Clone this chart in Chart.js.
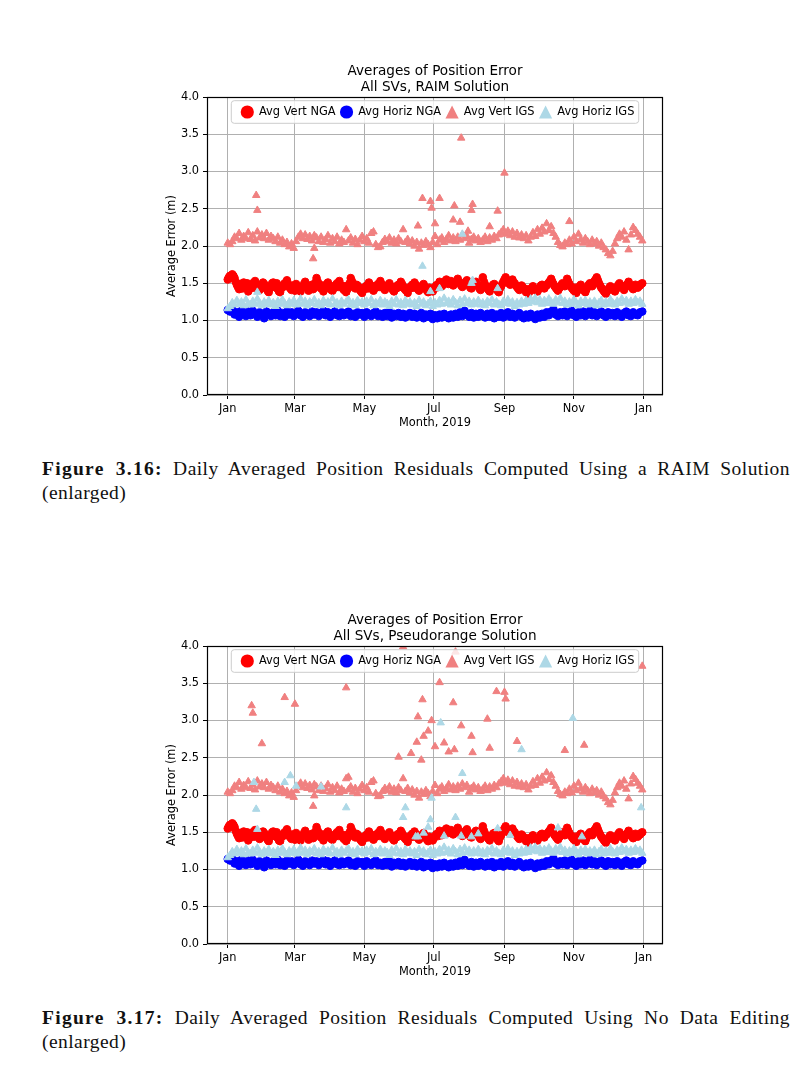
<!DOCTYPE html>
<html>
<head>
<meta charset="utf-8">
<script src="https://cdn.jsdelivr.net/npm/chart.js@4.4.0/dist/chart.umd.min.js"></script>
<style>
html,body{margin:0;padding:0;background:#fff;}
body{width:805px;height:1074px;position:relative;overflow:hidden;}
canvas{position:absolute;left:0;}
.cap{position:absolute;left:42px;width:748px;font-family:"Liberation Serif","DejaVu Serif",serif;font-size:19.5px;line-height:24px;color:#111;letter-spacing:0.45px;}
.cap .l1{text-align:justify;text-align-last:justify;}
.cap b{letter-spacing:1.3px;}
</style>
</head>
<body>
<canvas id="c1" width="805" height="400" style="top:40px"></canvas>
<div class="cap" style="top:457px">
  <div class="l1"><b>Figure 3.16:</b> Daily Averaged Position Residuals Computed Using a RAIM Solution</div>
  <div>(enlarged)</div>
</div>
<canvas id="c2" width="805" height="400" style="top:589px"></canvas>
<div class="cap" style="top:1006px">
  <div class="l1"><b>Figure 3.17:</b> Daily Averaged Position Residuals Computed Using No Data Editing</div>
  <div>(enlarged)</div>
</div>
<script>
// ---- Axis / category data ----
const monthTickDays   = [0, 59, 120, 181, 243, 304, 365];
const monthTickLabels = ['Jan', 'Mar', 'May', 'Jul', 'Sep', 'Nov', 'Jan'];
const seriesNames = ['Avg Vert NGA', 'Avg Horiz NGA', 'Avg Vert IGS', 'Avg Horiz IGS'];
const titleRaim = ['Averages of Position Error', 'All SVs, RAIM Solution'];
const titlePr   = ['Averages of Position Error', 'All SVs, Pseudorange Solution'];
const stepDays = 2; // arrays below hold every 2nd day, starting Jan 1 2019 (day 0)

// ---- Daily series (even days 0 .. 364) ----
const vertNga = [
1.55,1.60,1.62,1.57,1.48,1.42,1.46,1.51,1.44,1.39,
1.45,1.50,1.53,1.47,1.41,1.44,1.49,1.43,1.38,1.46,
1.51,1.47,1.42,1.38,1.45,1.50,1.54,1.46,1.41,1.44,
1.49,1.43,1.39,1.45,1.52,1.47,1.42,1.48,1.44,1.57,
1.49,1.43,1.39,1.46,1.51,1.45,1.40,1.44,1.50,1.53,
1.46,1.41,1.38,1.44,1.57,1.49,1.43,1.47,1.41,1.37,
1.42,1.47,1.51,1.45,1.40,1.44,1.49,1.53,1.46,1.41,
1.45,1.50,1.44,1.39,1.43,1.48,1.52,1.46,1.41,1.37,
1.43,1.48,1.51,1.45,1.40,1.44,1.49,1.43,1.38,1.42,
1.39,1.44,1.48,1.52,1.46,1.51,1.55,1.49,1.53,1.47,
1.51,1.56,1.50,1.45,1.49,1.54,1.47,1.43,1.48,1.52,
1.46,1.41,1.58,1.48,1.43,1.39,1.45,1.49,1.42,1.38,
1.46,1.52,1.58,1.53,1.48,1.55,1.50,1.45,1.41,1.47,
1.43,1.38,1.36,1.41,1.46,1.42,1.39,1.44,1.48,1.43,
1.47,1.51,1.56,1.49,1.44,1.40,1.45,1.50,1.46,1.56,
1.49,1.44,1.40,1.37,1.43,1.48,1.42,1.38,1.45,1.50,
1.46,1.53,1.58,1.50,1.44,1.40,1.36,1.41,1.46,1.43,
1.39,1.45,1.50,1.46,1.41,1.47,1.52,1.46,1.42,1.48,
1.44,1.47,1.50];
// Vert NGA, odd days 1 .. 363 (the red band is read day by day)
const vertNgaOddDays = [
1.58,1.57,1.60,1.52,1.45,1.49,1.43,1.47,1.50,1.42,
1.48,1.44,1.49,1.43,1.47,1.51,1.46,1.40,1.43,1.50,
1.45,1.50,1.39,1.43,1.48,1.46,1.49,1.43,1.47,1.40,
1.46,1.41,1.44,1.49,1.46,1.40,1.45,1.42,1.51,1.52,
1.45,1.47,1.42,1.49,1.47,1.41,1.46,1.48,1.45,1.48,
1.43,1.46,1.42,1.50,1.53,1.45,1.48,1.43,1.39,1.44,
1.45,1.43,1.48,1.42,1.46,1.47,1.45,1.49,1.43,1.46,
1.48,1.46,1.41,1.44,1.47,1.45,1.49,1.43,1.40,1.44,
1.46,1.44,1.48,1.42,1.45,1.47,1.45,1.40,1.44,1.41,
1.42,1.47,1.45,1.49,1.48,1.53,1.50,1.51,1.49,1.50,
1.53,1.52,1.47,1.48,1.52,1.50,1.44,1.47,1.50,1.48,
1.43,1.47,1.52,1.45,1.41,1.43,1.48,1.45,1.40,1.43,
1.49,1.55,1.54,1.50,1.52,1.51,1.47,1.43,1.44,1.45,
1.41,1.42,1.39,1.44,1.43,1.40,1.42,1.47,1.45,1.46,
1.49,1.53,1.52,1.46,1.42,1.43,1.48,1.47,1.51,1.52,
1.46,1.42,1.44,1.40,1.46,1.44,1.40,1.42,1.48,1.47,
1.50,1.55,1.54,1.47,1.42,1.38,1.39,1.44,1.44,1.41,
1.42,1.48,1.47,1.44,1.45,1.49,1.48,1.44,1.46,1.45,
1.46,1.49];

const horizNga = [
1.14,1.12,1.15,1.08,1.11,1.05,1.13,1.09,1.06,1.12,
1.07,1.13,1.09,1.05,1.11,1.08,1.03,1.12,1.09,1.06,
1.11,1.07,1.13,1.06,1.10,1.05,1.12,1.08,1.11,1.06,
1.09,1.13,1.07,1.05,1.11,1.09,1.06,1.12,1.08,1.11,
1.06,1.10,1.13,1.07,1.11,1.05,1.09,1.12,1.07,1.06,
1.11,1.07,1.10,1.12,1.06,1.09,1.05,1.11,1.08,1.10,
1.05,1.11,1.08,1.06,1.10,1.12,1.06,1.09,1.05,1.10,
1.06,1.11,1.04,1.09,1.06,1.10,1.05,1.09,1.04,1.08,
1.10,1.05,1.09,1.04,1.08,1.10,1.03,1.08,1.05,1.09,
1.02,1.07,1.03,1.08,1.04,1.09,1.05,1.03,1.08,1.04,
1.09,1.05,1.11,1.06,1.13,1.08,1.05,1.10,1.04,1.09,
1.05,1.10,1.06,1.04,1.09,1.05,1.10,1.03,1.08,1.05,
1.10,1.04,1.09,1.11,1.05,1.09,1.04,1.08,1.10,1.05,
1.03,1.08,1.04,1.09,1.05,1.02,1.08,1.04,1.09,1.05,
1.11,1.07,1.12,1.15,1.08,1.06,1.11,1.07,1.12,1.06,
1.10,1.13,1.07,1.05,1.11,1.07,1.12,1.06,1.10,1.13,
1.07,1.11,1.06,1.10,1.12,1.07,1.05,1.11,1.07,1.10,
1.06,1.11,1.07,1.05,1.10,1.12,1.07,1.06,1.11,1.08,
1.07,1.11,1.12];

const vertIgs = [
2.04,2.02,2.06,2.12,2.10,2.17,2.08,2.13,2.10,2.18,
2.09,2.14,2.07,2.19,2.11,2.15,2.10,2.17,2.08,2.13,
2.10,2.06,2.12,2.04,2.08,2.02,2.05,1.99,2.03,1.97,
2.06,2.12,2.16,2.10,2.15,2.09,2.13,2.07,2.14,2.11,
2.06,2.12,2.05,2.09,2.14,2.04,2.10,2.06,2.12,2.03,
2.08,2.05,2.22,2.07,2.11,2.04,2.09,2.02,2.08,2.13,
2.06,2.10,2.04,2.17,2.19,2.02,1.98,1.99,2.05,2.09,
2.06,2.11,2.04,2.08,2.03,2.10,2.06,2.22,2.05,2.09,
2.03,2.07,2.00,2.05,1.96,2.04,2.01,2.06,2.02,1.98,
2.05,2.13,2.02,2.08,2.11,2.05,2.09,2.14,2.07,2.11,
2.06,2.12,2.08,2.15,2.10,2.13,2.04,2.09,2.12,2.07,
2.10,2.05,2.08,2.12,2.06,2.11,2.08,2.13,2.10,2.15,
2.18,2.22,2.16,2.20,2.14,2.19,2.12,2.17,2.11,2.15,
2.10,2.14,2.07,2.12,2.18,2.13,2.22,2.16,2.24,2.19,
2.30,2.21,2.26,2.17,2.12,2.05,2.01,1.99,2.04,2.02,
2.08,2.03,2.12,2.06,2.16,2.09,2.04,2.10,2.06,2.02,
2.08,2.03,2.06,2.00,2.04,1.98,1.95,1.90,1.87,1.93,
2.03,2.10,2.16,2.12,2.19,2.08,1.95,2.15,2.25,2.21,
2.16,2.12,2.07];

const horizIgs = [
1.16,1.19,1.24,1.21,1.27,1.22,1.25,1.20,1.28,1.23,
1.21,1.26,1.22,1.29,1.24,1.20,1.25,1.22,1.27,1.21,
1.24,1.19,1.26,1.22,1.28,1.23,1.20,1.25,1.22,1.27,
1.21,1.24,1.29,1.22,1.26,1.20,1.25,1.23,1.28,1.21,
1.24,1.20,1.27,1.23,1.25,1.21,1.29,1.22,1.24,1.20,
1.26,1.22,1.25,1.28,1.21,1.24,1.20,1.27,1.23,1.25,
1.21,1.26,1.23,1.28,1.20,1.24,1.22,1.27,1.21,1.25,
1.23,1.19,1.26,1.22,1.28,1.21,1.24,1.20,1.27,1.22,
1.25,1.21,1.24,1.19,1.27,1.22,1.25,1.20,1.23,1.26,
1.19,1.24,1.21,1.27,1.22,1.30,1.23,1.26,1.21,1.28,
1.24,1.20,1.27,1.22,1.29,1.23,1.26,1.21,1.25,1.22,
1.27,1.21,1.24,1.20,1.26,1.23,1.28,1.21,1.25,1.22,
1.20,1.26,1.23,1.28,1.22,1.25,1.19,1.24,1.21,1.26,
1.22,1.27,1.23,1.29,1.25,1.30,1.24,1.28,1.22,1.27,
1.23,1.29,1.25,1.22,1.28,1.24,1.30,1.23,1.26,1.21,
1.25,1.22,1.28,1.24,1.20,1.26,1.23,1.27,1.21,1.25,
1.22,1.26,1.20,1.24,1.27,1.21,1.25,1.22,1.28,1.24,
1.21,1.26,1.23,1.29,1.24,1.27,1.22,1.26,1.23,1.28,
1.24,1.26,1.22];

// ---- Isolated outlier days (day of year, value) ----
// Figure 3.16 (RAIM solution)
const raimVertIgsExtraDays  = [25, 26, 75, 76, 167, 171, 178, 179, 182, 186, 198, 199, 204, 205, 211, 214, 215, 230, 237, 243, 300];
const raimVertIgsExtraVals  = [2.68, 2.48, 1.83, 1.97, 2.27, 2.64, 2.60, 2.51, 2.30, 2.64, 2.35, 2.54, 2.32, 3.45, 2.20, 2.48, 2.56, 2.26, 2.47, 2.98, 2.33];
const raimHorizIgsExtraDays = [26, 171, 178, 186, 206, 214, 215, 237];
const raimHorizIgsExtraVals = [1.38, 1.73, 1.39, 1.43, 2.16, 1.50, 1.54, 1.43];
// Figure 3.17 (pseudorange solution, no data editing)
const prVertIgsExtraDays  = [21, 22, 30, 50, 59, 75, 76, 104, 106, 150, 154, 161, 166, 167, 170, 171, 172, 176, 179, 182, 186, 190, 194, 198, 199, 200, 205, 214, 215, 228, 230, 236, 243, 244, 254, 296, 313, 364];
const prVertIgsExtraVals  = [3.20, 3.10, 2.69, 3.31, 3.22, 1.85, 1.99, 3.44, 2.24, 2.51, 3.99, 2.56, 2.71, 3.05, 2.47, 3.28, 2.79, 2.86, 3.00, 2.65, 3.51, 2.70, 2.58, 3.24, 2.61, 3.92, 2.93, 2.79, 2.57, 3.02, 2.63, 3.39, 3.38, 3.29, 2.72, 2.60, 2.67, 3.73];
const prHorizIgsExtraDays = [23, 25, 26, 50, 55, 60, 82, 104, 154, 156, 165, 167, 172, 176, 178, 179, 187, 190, 200, 205, 206, 214, 220, 237, 248, 258, 290, 303, 311, 363];
const prHorizIgsExtraVals = [2.17, 1.81, 1.54, 2.17, 2.26, 2.12, 2.11, 1.83, 1.70, 1.83, 1.44, 1.44, 1.49, 1.57, 1.67, 1.96, 2.97, 1.45, 1.70, 1.45, 2.29, 1.44, 1.48, 1.55, 1.46, 2.61, 1.56, 3.03, 1.44, 1.83];

// ---- Styling ----
const seriesColors = ['#ff0000', '#0000ff', '#f08080', '#add8e6'];
const seriesShapes = ['circle', 'circle', 'triangle', 'triangle'];
const FONT = '"DejaVu Sans", sans-serif';
Chart.defaults.font.family = FONT;
Chart.defaults.color = '#000';

function toPoints(values, extraDays, extraVals, oddValues) {
  const pts = values.map((v, i) => ({ x: i * stepDays, y: v }));
  (oddValues || []).forEach((v, i) => pts.push({ x: i * stepDays + 1, y: v }));
  (extraDays || []).forEach((d, k) => pts.push({ x: d, y: extraVals[k] }));
  return pts;
}

// Axes title (centred over the plot area), frame on all four sides, legend inside upper centre
const axesDecor = {
  id: 'axesDecor',
  afterDraw(chart, args, opts) {
    const { ctx, chartArea: a } = chart;
    const cx = (a.left + a.right) / 2;
    ctx.save();
    ctx.fillStyle = '#000';
    ctx.font = '13.6px ' + FONT;
    ctx.textAlign = 'center';
    ctx.textBaseline = 'alphabetic';
    ctx.fillText(opts.lines[0], cx, a.top - 22);
    ctx.fillText(opts.lines[1], cx, a.top - 6.5);
    ctx.restore();
  },
  afterDatasetsDraw(chart) {
    const { ctx, chartArea: a } = chart;
    ctx.save();
    ctx.strokeStyle = '#000';
    ctx.lineWidth = 1.2;
    ctx.strokeRect(Math.round(a.left) + 0.5, Math.round(a.top) + 0.5,
                   Math.round(a.right) - Math.round(a.left) - 1, Math.round(a.bottom) - Math.round(a.top) - 1);
    ctx.font = '11.4px ' + FONT;
    const widths = seriesNames.map(n => ctx.measureText(n).width);
    const padL = 16, mk2txt = 11.7, txt2mk = 11, padR = 4.3;
    const total = padL + widths.reduce((s, w) => s + w + mk2txt, 0) + 3 * txt2mk + padR;
    const x0 = (a.left + a.right) / 2 - total / 2;
    const y0 = a.top + 3.7, h = 22.6;
    ctx.beginPath();
    ctx.roundRect(x0, y0, total, h, 3);
    ctx.fillStyle = 'rgba(255,255,255,0.8)';
    ctx.fill();
    ctx.strokeStyle = '#cccccc';
    ctx.lineWidth = 1;
    ctx.stroke();
    const yc = y0 + h / 2;
    let x = x0 + padL;
    seriesNames.forEach((name, i) => {
      ctx.fillStyle = seriesColors[i];
      ctx.beginPath();
      if (seriesShapes[i] === 'circle') {
        ctx.arc(x, yc, 6.6, 0, Math.PI * 2);
      } else {
        ctx.moveTo(x, yc - 6.6);
        ctx.lineTo(x - 6.6, yc + 6.4);
        ctx.lineTo(x + 6.6, yc + 6.4);
        ctx.closePath();
      }
      ctx.fill();
      ctx.fillStyle = '#000';
      ctx.textAlign = 'left';
      ctx.textBaseline = 'middle';
      ctx.fillText(name, x + mk2txt, yc + 0.5);
      x += mk2txt + widths[i] + txt2mk;
    });
    ctx.restore();
  }
};

function makeChart(id, titleLines, vIgsDays, vIgsVals, hIgsDays, hIgsVals) {
  const datasets = [
    { data: toPoints(vertNga, null, null, vertNgaOddDays), order: 4 },
    { data: toPoints(horizNga), order: 3 },
    { data: toPoints(vertIgs, vIgsDays, vIgsVals),  order: 2 },
    { data: toPoints(horizIgs, hIgsDays, hIgsVals), order: 1 }
  ].map((d, i) => Object.assign(d, {
    label: seriesNames[i],
    backgroundColor: seriesColors[i],
    borderColor: seriesColors[i],
    borderWidth: 1,
    pointStyle: seriesShapes[i],
    pointRadius: seriesShapes[i] === 'circle' ? 3.8 : 4.3,
    clip: 0
  }));

  const axisGrid = { color: '#b0b0b0', lineWidth: 1, tickColor: '#000', tickLength: 4, tickWidth: 1 };

  return new Chart(document.getElementById(id), {
    type: 'scatter',
    data: { datasets },
    options: {
      responsive: false,
      animation: false,
      devicePixelRatio: 1,
      layout: { padding: { left: 157, right: 142, top: 57, bottom: 7 } },
      plugins: {
        legend: { display: false },
        tooltip: { enabled: false },
        title: { display: false },
        axesDecor: { lines: titleLines }
      },
      scales: {
        x: {
          type: 'linear',
          min: -18.2, max: 382.2,
          afterBuildTicks: s => { s.ticks = monthTickDays.map(v => ({ value: v })); },
          afterFit: s => { s.height = 38; },
          ticks: {
            autoSkip: false, maxRotation: 0, padding: 3,
            font: { size: 11.4 }, color: '#000',
            callback: (v, i) => monthTickLabels[i]
          },
          grid: axisGrid,
          border: { display: false },
          title: { display: true, text: 'Month, 2019', color: '#000', font: { size: 11.4 }, padding: { top: 0, bottom: 3 } }
        },
        y: {
          min: 0, max: 4,
          afterFit: s => { s.width = 50; },
          ticks: {
            stepSize: 0.5, padding: 4,
            font: { size: 11.4 }, color: '#000',
            callback: v => Number(v).toFixed(1)
          },
          grid: axisGrid,
          border: { display: false },
          title: { display: true, text: 'Average Error (m)', color: '#000', font: { size: 11.4 }, padding: { top: 8, bottom: 0 } }
        }
      }
    },
    plugins: [axesDecor]
  });
}

makeChart('c1', titleRaim, raimVertIgsExtraDays, raimVertIgsExtraVals, raimHorizIgsExtraDays, raimHorizIgsExtraVals);
makeChart('c2', titlePr, prVertIgsExtraDays, prVertIgsExtraVals, prHorizIgsExtraDays, prHorizIgsExtraVals);
</script>
</body>
</html>
